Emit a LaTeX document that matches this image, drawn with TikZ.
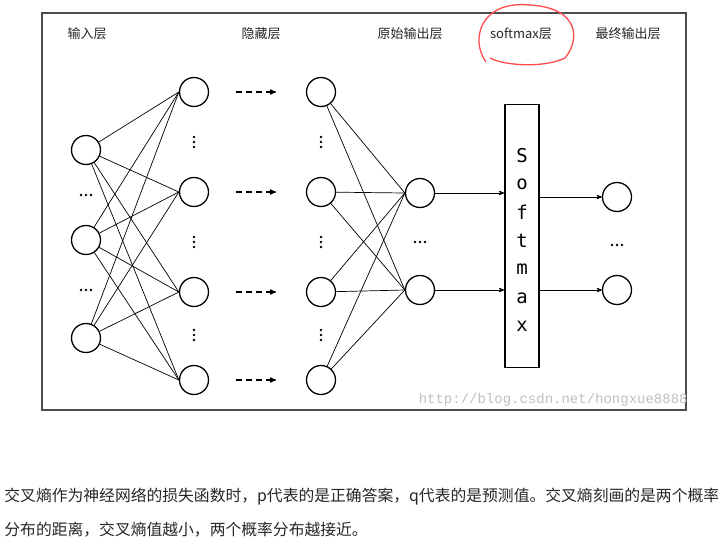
\documentclass[tikz,border=0pt]{standalone}
\usepackage{fontspec}
\setmainfont{Noto Sans CJK SC}
\newfontfamily\monofont{Liberation Mono}
\newfontfamily\serifmono{DejaVu Sans Mono}
\usetikzlibrary{arrows,calc}
\newcommand{\vdotsat}[1]{\foreach \d in {-5,0,5} \fill ($(#1)+(0,\d)$) circle (1.3pt);}
\newcommand{\hdotsat}[1]{\foreach \d in {-5,0,5} \fill ($(#1)+(\d,0)$) circle (1.3pt);}
\begin{document}
\begin{tikzpicture}[x=1pt, y=-1pt, >=stealth', line width=0.8pt]
        \tikzstyle{neuron}=[circle, draw=black, line width=1.3pt, minimum size=29pt, inner sep=0pt]
        \tikzstyle{layerlabel}=[font=\fontsize{13}{15}\selectfont, text=black!85]
        \tikzstyle{conn}=[-, line width=0.7pt]
        \useasboundingbox (0,0) rectangle (721,552);
        \draw[line width=1.2pt, black!70] (42,13) rectangle (686,410);

        % labels
        \node[layerlabel] (l1) at (87,34)  {输入层};
        \node[layerlabel] (l2) at (261,34) {隐藏层};
        \node[layerlabel] (l3) at (410,34) {原始输出层};
        \node[layerlabel] (l4) at (521,34) {softmax层};
        \node[layerlabel] (l5) at (628,34) {最终输出层};
        \draw[red!70, line width=1.3pt] (486,62) .. controls (470,40) and (480,0) .. (530,5)
            .. controls (580,8) and (580,40) .. (565,58) .. controls (545,68) and (505,66) .. (490,58);

        % input layer
        \foreach \n/\y in {1/150, 2/240, 3/338}
            \node[neuron] (i\n) at (86,\y) {};
        \coordinate (id1) at (86,195);
        \coordinate (id2) at (86,290);
        \hdotsat{id1} \hdotsat{id2}

        % hidden layers
        \foreach \n/\y in {1/92, 2/192, 3/292, 4/380} {
            \node[neuron] (a\n) at (194,\y) {};
            \node[neuron] (b\n) at (321,\y) {};
            \draw[->, dash pattern=on 6pt off 4pt, line width=1.2pt] (236,\y) -- (276,\y);
        }
        \foreach \y in {142, 242, 335} {
            \coordinate (ad) at (194,\y);
            \coordinate (bd) at (321,\y);
            \vdotsat{ad} \vdotsat{bd}
        }

        % raw output layer
        \node[neuron] (o1) at (420,193) {};
        \node[neuron] (o2) at (420,290) {};
        \coordinate (od) at (420,242);
        \hdotsat{od}

        % softmax box
        \node[draw=black, line width=1.8pt, minimum width=34pt, minimum height=263pt, inner sep=0pt] (sm) at (522,236) {};
        \foreach \c [count=\k] in {S,o,f,t,m,a,x}
            \node[font=\serifmono\fontsize{19}{20}\selectfont] (s\k) at (522,127+28.5*\k) {\c};

        % final output layer
        \node[neuron] (f1) at (617,197) {};
        \node[neuron] (f2) at (617,290) {};
        \coordinate (fd) at (617,245);
        \hdotsat{fd}

        % connections
        \foreach \i in {1,2,3}
            \foreach \j in {1,2,3,4}
                \draw[conn] (i\i) -- (a\j.west);
        \foreach \i in {1,2,3,4}
            \foreach \j in {1,2}
                \draw[conn] (b\i) -- (o\j.west);
        \draw[->] (o1) -- (o1 -| sm.west);
        \draw[->] (o2) -- (o2 -| sm.west);
        \draw[->] (f1 -| sm.east) -- (f1);
        \draw[->] (f2 -| sm.east) -- (f2);

        \node[font=\monofont\fontsize{14}{16}\selectfont, text=black!25, anchor=east, inner sep=0pt] (wm) at (688,400) {http://blog.csdn.net/hongxue8888};

        % caption
        \node[anchor=west, font=\fontsize{15.8}{18}\selectfont, text=black!85, inner sep=0pt] (c1) at (4,497)
            {交叉熵作为神经网络的损失函数时，p代表的是正确答案，q代表的是预测值。交叉熵刻画的是两个概率};
        \node[anchor=west, font=\fontsize{15.8}{18}\selectfont, text=black!85, inner sep=0pt] (c2) at (4,530)
            {分布的距离，交叉熵值越小，两个概率分布越接近。};
\end{tikzpicture}
\end{document}
